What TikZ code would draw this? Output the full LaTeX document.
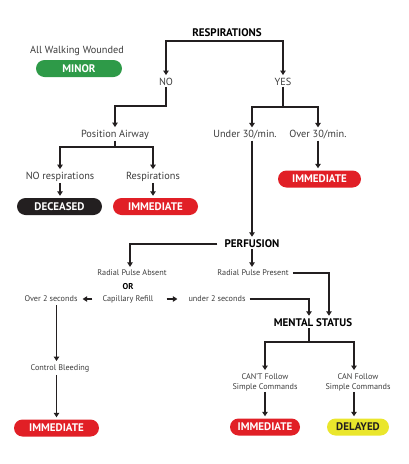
\documentclass[tikz,border=0pt]{standalone}
\usepackage{fontspec}
\setmainfont{PT Sans}
\usetikzlibrary{positioning}
\usetikzlibrary{calc}
\usetikzlibrary{arrows.meta}
\definecolor{triagered}{HTML}{E11F26}
\definecolor{minorgreen}{HTML}{2E9A48}
\definecolor{deadblack}{HTML}{231F20}
\definecolor{delayyellow}{HTML}{EAE62C}
\definecolor{textgray}{HTML}{3C3C3C}

\begin{document}
\begin{tikzpicture}[x=1pt, y=-1pt,
    txt/.style={text=textgray, font=\fontsize{10.3}{11}\selectfont, inner sep=1pt},
    small/.style={txt, font=\fontsize{8.2}{10}\selectfont},
    head/.style={txt, text=black, font=\fontsize{11}{12}\selectfont\bfseries},
    tag/.style={rounded corners=8.5pt, minimum height=17pt, inner sep=0pt, text=white, font=\fontsize{11}{12}\selectfont\bfseries},
    arr/.style={-{Triangle[width=5.5pt,length=4.5pt]}, line width=1.6pt, deadblack, shorten >=2pt}]
            \useasboundingbox (0,0) rectangle (408,464);
            \node[head] (resp) at (227,33) {RESPIRATIONS};
            \node[txt] (walk) at (77,51) {All Walking Wounded};
            \node[tag, fill=minorgreen, minimum width=86pt] (minor) at (79,68.5) {MINOR};
            \node[txt] (no) at (166,82) {NO};
            \node[txt] (yes) at (283,82) {YES};
            \node[txt] (airway) at (115,135) {Position Airway};
            \node[txt] (under) at (245,135) {Under 30/min.};
            \node[txt] (over) at (318,135) {Over 30/min.};
            \node[txt] (norsp) at (60,177) {NO respirations};
            \node[txt] (rsp) at (153,177) {Respirations};
            \node[tag, fill=deadblack, minimum width=85pt] (dead) at (59.5,206.5) {DECEASED};
            \node[tag, fill=triagered, minimum width=85pt] (imm1) at (155.5,206.5) {IMMEDIATE};
            \node[tag, fill=triagered, minimum width=83pt] (imm2) at (319.5,179) {IMMEDIATE};
            \node[head] (perf) at (252,244) {PERFUSION};
            \node[small] (absent) at (132,273) {Radial Pulse Absent};
            \node[small] (present) at (253,273) {Radial Pulse Present};
            \node[small, text=black, font=\fontsize{8.5}{10}\selectfont\bfseries] (or) at (128,287) {OR};
            \node[small] (cap) at (128,299) {Capillary Refill};
            \node[small] (over2) at (51,299) {Over 2 seconds};
            \node[small] (under2) at (217,299) {under 2 seconds};
            \node[head] (ment) at (313,323) {MENTAL STATUS};
            \node[small, align=center] (cant) at (265,382) {CAN'T Follow\\Simple Commands};
            \node[small, align=center] (can) at (358,382) {CAN Follow\\Simple Commands};
            \node[small] (bleed) at (60,368) {Control Bleeding};
            \node[tag, fill=triagered, minimum width=85pt] (imm3) at (56.5,428) {IMMEDIATE};
            \node[tag, fill=triagered, minimum width=70pt] (imm4) at (265,427) {IMMEDIATE};
            \node[tag, fill=delayyellow, text=deadblack, minimum width=62pt] (delay) at (358,427) {DELAYED};

            \draw[arr] ([yshift=-3pt]resp.south) -| (no.north);
            \draw[arr] ([yshift=-3pt]resp.south) -| (yes.north);
            \draw[arr] (no.south) -- ++(0,19) -| (airway.north);
            \draw[arr] (yes.south) -- ++(0,20) -| (perf.north |- under.north);
            \draw[arr] (yes.south) -- ++(0,20) -| (over.north);
            \draw[arr] (airway.south) -- ++(0,6) -| (norsp.north);
            \draw[arr] (airway.south) -- ++(0,6) -| (rsp.north);
            \draw[arr] (norsp.south) -- (norsp.south |- dead.north);
            \draw[arr] (rsp.south) -- (rsp.south |- imm1.north);
            \draw[arr] (over.south) -- (over.south |- imm2.north);
            \draw[arr] (perf.north |- under.south) -- (perf.north);
            \draw[arr] ([xshift=-6pt]perf.west) -| ([xshift=-2pt]absent.north);
            \draw[arr] (perf.south) -- (perf.south |- present.north);
            \draw[arr, shorten <=9pt, shorten >=4pt] (cap.west) -- (over2.east);
            \draw[arr, shorten <=12pt, shorten >=10pt] (cap.east) -- (under2.west);
            \draw[arr] ([xshift=3pt]present.east) -| ([xshift=16pt]ment.north);
            \draw[arr] ([xshift=3pt]under2.east) -| ([xshift=-4pt]ment.north);
            \draw[arr] ([xshift=-4pt]ment.south) -- ++(0,14) -| (cant.north);
            \draw[arr] ([xshift=-4pt]ment.south) -- ++(0,14) -| ([xshift=-4pt]can.north);
            \draw[arr] (cant.south) -- (cant.south |- imm4.north);
            \draw[arr] ([xshift=-4pt]can.south) -- ([xshift=-4pt]can.south |- delay.north);
            \draw[arr, shorten <=2pt] (over2.south -| imm3.north) -- (bleed.north -| imm3.north);
            \draw[arr, shorten <=2pt] (bleed.south -| imm3.north) -- (imm3.north);
\end{tikzpicture}
\end{document}
